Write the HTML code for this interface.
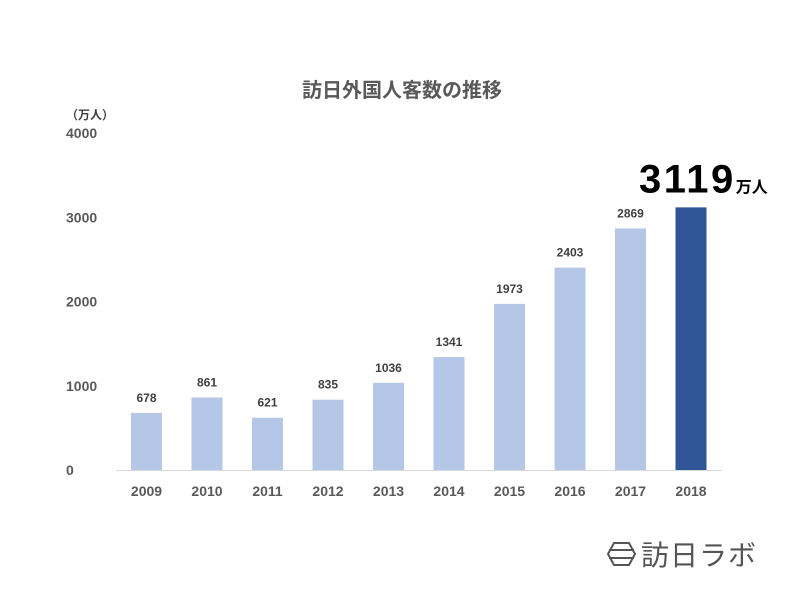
<!DOCTYPE html>
<html><head><meta charset="utf-8"><style>
body{margin:0;background:#fff;}
svg text{font-family:"Liberation Sans","Noto Sans CJK JP",sans-serif;}
</style></head><body>
<svg id="chart" width="800" height="600" xmlns="http://www.w3.org/2000/svg">
<text x="402" y="97" text-anchor="middle" font-size="20" font-weight="bold" fill="#595959">訪日外国人客数の推移</text>
<text x="66" y="119" font-size="12" font-weight="bold" fill="#404040">（万人）</text>
<line x1="116" y1="470.5" x2="722" y2="470.5" stroke="#d9d9d9" stroke-width="1"/>
<g id="bars"></g>
<g>
<path d="M614 543 L629 543 L635 554 L629 565 L614 565 L608 554 Z M609 550 L634 550 M609 558 L634 558" fill="none" stroke="#555" stroke-width="2"/>
<text x="641" y="565" font-size="28" fill="#555" letter-spacing="1">訪日ラボ</text>
</g>
</svg>
<script>
const years=['2009','2010','2011','2012','2013','2014','2015','2016','2017','2018'];
const visitors=[678,861,621,835,1036,1341,1973,2403,2869,3119];
const yTicks=[0,1000,2000,3000,4000];
const ns='http://www.w3.org/2000/svg';
const svg=document.getElementById('chart');
const g=document.getElementById('bars');
const y=v=>470-v*0.0842;
const x=i=>146.5+i*60.5;
function mk(tag,attrs,txt){const e=document.createElementNS(ns,tag);for(const k in attrs)e.setAttribute(k,attrs[k]);if(txt!==undefined)e.textContent=txt;return e;}
yTicks.forEach(t=>{
 const e=mk('text',{x:66,y:y(t)+5,'font-size':14,'font-weight':'bold',fill:'#595959'},t);
 
 
 svg.appendChild(e);
});
years.forEach((yr,i)=>{
 const last=i===years.length-1;
 const r=mk('rect',{x:x(i)-15.5,y:y(visitors[i]),width:31,height:470-y(visitors[i]),fill:last?'#2f5597':'#b4c7e7'});
 
 
 g.appendChild(r);
 const l=mk('text',{x:x(i),y:496,'text-anchor':'middle','font-size':14,'font-weight':'bold',fill:'#595959'},yr);
 
 
 g.appendChild(l);
 if(last){
  const v=mk('text',{x:x(i)-52,y:y(visitors[i])-15,'font-size':40,'font-weight':'bold',fill:'#000'});
  
  
  v.appendChild(mk('tspan',{'letter-spacing':2.5},visitors[i]));
  v.appendChild(mk('tspan',{'font-size':16},'万人'));
  g.appendChild(v);
 } else {
  const v=mk('text',{x:x(i),y:y(visitors[i])-11,'text-anchor':'middle','font-size':12,'font-weight':'bold',fill:'#404040'},visitors[i]);
  
  
  g.appendChild(v);
 }
});
</script>
</body></html>
